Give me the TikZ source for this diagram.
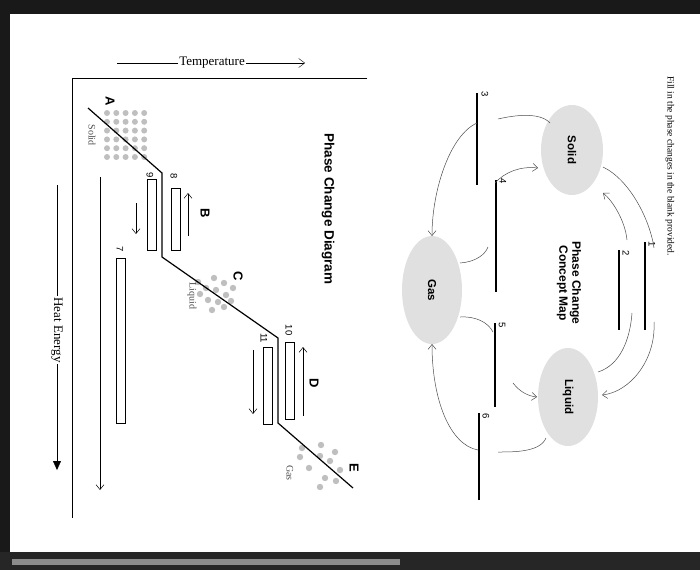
\documentclass[tikz,border=0pt]{standalone}
\usepackage{fontspec}
\setmainfont{Liberation Serif}
\newfontfamily\sansf{Liberation Sans}
\usetikzlibrary{arrows.meta,shapes.geometric}
\begin{document}
\begin{tikzpicture}[x=1pt,y=-1pt,
  lbl/.style={font=\sansf\bfseries\fontsize{13}{13}\selectfont,rotate=-90,inner sep=0},
  num/.style={font=\sansf\fontsize{9.5}{9.5}\selectfont,rotate=-90,inner sep=0},
  ser/.style={font=\fontsize{10}{10}\selectfont,rotate=-90,inner sep=0,text=black!70},
  box/.style={draw,line width=0.5pt},
  dot/.style={fill=black!25},
  blank/.style={line width=2pt},
  conn/.style={black!70,line width=0.5pt},
  oarr/.style={conn,-{Straight Barb[length=5pt,width=8pt]}},
  phase/.style={ellipse,fill=black!12,font=\sansf\bfseries\fontsize{11.5}{11.5}\selectfont,rotate=-90,inner sep=0}]
\useasboundingbox (0,0) rectangle (700,570);
\fill[black!90] (0,0) rectangle (700,14);
\fill[black!90] (0,0) rectangle (10,570);
\fill[black!85] (0,552) rectangle (700,570);
\fill[black!45] (12,559) rectangle (400,565);
% axes
\coordinate (o) at (72,78); \coordinate (ox) at (367,78); \coordinate (oy) at (72,518);
\draw[line width=0.6pt] (ox) -- (o) -- (oy);
\coordinate (t1) at (117,63); \coordinate (t2) at (305,63);
\draw[-{Straight Barb[length=6pt,width=9pt]}] (t1) -- (t2);
\node[font=\fontsize{13}{13}\selectfont,fill=white,inner sep=1pt] (temp) at (212,63) {Temperature};
\coordinate (h1) at (57,185); \coordinate (h2) at (57,470);
\draw[-{Triangle[length=9pt,width=8pt]}] (h1) -- (h2);
\node[font=\fontsize{13}{13}\selectfont,rotate=-90,fill=white,inner sep=1pt] (heat) at (57,330) {Heat Energy};
\node[lbl,font=\sansf\bfseries\fontsize{13.5}{13.5}\selectfont] (title) at (328,209) {Phase Change Diagram};
% dots
\foreach \i in {0,...,4}{\foreach \j in {0,...,5}{\fill[dot] (107+\i*9.3,113+\j*8.8) circle (3);}}
\foreach \p in {(198,282),(200,294),(206,288),(208,300),(214,278),(216,290),(218,302),(224,283),(226,295),(233,288),(231,301),(224,307),(212,310)}{\fill[dot] \p circle (3.2);}
\foreach \p in {(302,448),(300,457),(309,468),(321,445),(320,456),(335,452),(340,470),(336,481),(325,478),(320,487),(330,461)}{\fill[dot] \p circle (3.2);}
% curve
\coordinate (cA) at (88,108); \coordinate (k1) at (162,173); \coordinate (k2) at (162,257);
\coordinate (k3) at (278,338); \coordinate (k4) at (278,423); \coordinate (cE) at (353,488);
\draw[line width=1.2pt] (cA) -- (k1) -- (k2) -- (k3) -- (k4) -- (cE);
\node[lbl] (A) at (110,101) {A};
\node[lbl] (B) at (205,213) {B};
\node[lbl] (C) at (238,276) {C};
\node[lbl] (D) at (314,383) {D};
\node[lbl] (E) at (354,468) {E};
\node[ser] (ls) at (92,135) {Solid};
\node[ser] (ll) at (192,296) {Liquid};
\node[ser] (lg) at (290,473) {Gas};
% boxes
\draw[box] (147,179) rectangle (156,250);
\draw[box] (171,188) rectangle (180,250);
\draw[box] (116,258) rectangle (125,423);
\draw[box] (263,347) rectangle (272,424);
\draw[box] (285,342) rectangle (294,419);
\node[num] (n9) at (150,175) {9};
\node[num] (n8) at (174,176) {8};
\node[num] (n7) at (120,249) {7};
\node[num] (n11) at (264,338) {11};
\node[num] (n10) at (289,330) {10};
\tikzset{barb/.style={-{Straight Barb[length=5pt,width=8pt]},line width=0.5pt}}
\coordinate (a1) at (188,236); \coordinate (a2) at (188,193);
\coordinate (a3) at (136,203); \coordinate (a4) at (136,234);
\coordinate (a5) at (303,416); \coordinate (a6) at (303,347);
\coordinate (a7) at (253,350); \coordinate (a8) at (253,414);
\coordinate (a9) at (100,177); \coordinate (a10) at (100,490);
\draw[barb] (a1) -- (a2); \draw[barb] (a3) -- (a4);
\draw[barb] (a5) -- (a6); \draw[barb] (a7) -- (a8);
\draw[barb] (a9) -- (a10);
% concept map
\node[font=\fontsize{9.5}{9.5}\selectfont,rotate=-90,inner sep=0] (fill) at (670,166) {Fill in the phase changes in the blank provided.};
\node[phase,minimum width=90pt,minimum height=62pt] (solid) at (572,150) {Solid};
\node[phase,minimum width=108pt,minimum height=60pt] (gas) at (432,290) {Gas};
\node[phase,minimum width=98pt,minimum height=60pt] (liquid) at (568,397) {Liquid};
\node[font=\sansf\bfseries\fontsize{12}{13}\selectfont,rotate=-90,align=center,inner sep=0] (cm) at (569,283) {Phase Change\\Concept Map};
% blanks
\foreach \n/\x/\ya/\yb/\lx/\ly in {1/645/242/330/652/244, 2/619/250/330/626/253, 3/477/93/185/485/94, 4/496/180/292/503/181, 5/495/323/407/502/325, 6/479/413/500/486/416}{
  \coordinate (b\n s) at (\x,\ya); \coordinate (b\n e) at (\x,\yb);
  \draw[blank] (b\n s) -- (b\n e);
  \node[num] (bn\n) at (\lx,\ly) {\n};}
% connectors
\coordinate (p1) at (603,167); \coordinate (q1) at (654,248);
\coordinate (p1b) at (654,322); \coordinate (r1) at (602,395);
\draw[conn] (p1) .. controls (630,180) and (650,220) .. (q1);
\draw[oarr] (p1b) .. controls (656,360) and (630,392) .. (r1);
\coordinate (p2) at (598,372); \coordinate (q2) at (632,313);
\coordinate (p2b) at (627,240); \coordinate (r2) at (603,193);
\draw[conn] (p2) .. controls (620,365) and (630,340) .. (q2);
\draw[oarr] (p2b) .. controls (625,220) and (612,200) .. (r2);
\coordinate (p3) at (550,123); \coordinate (q3) at (498,119);
\coordinate (p3b) at (477,123); \coordinate (r3) at (432,236);
\draw[conn] (p3) .. controls (540,112) and (515,115) .. (q3);
\draw[oarr] (p3b) .. controls (450,135) and (432,190) .. (r3);
\coordinate (p4) at (460,263); \coordinate (q4) at (488,247);
\coordinate (p4b) at (495,183); \coordinate (r4) at (538,168);
\draw[conn] (p4) .. controls (475,262) and (485,255) .. (q4);
\draw[oarr] (p4b) .. controls (505,172) and (520,166) .. (r4);
\coordinate (p5) at (460,317); \coordinate (q5) at (493,332);
\coordinate (p5b) at (513,383); \coordinate (r5) at (537,397);
\draw[conn] (p5) .. controls (475,316) and (488,322) .. (q5);
\draw[oarr] (p5b) .. controls (520,392) and (528,396) .. (r5);
\coordinate (p6) at (546,438); \coordinate (q6) at (498,452);
\coordinate (p6b) at (478,450); \coordinate (r6) at (432,344);
\draw[conn] (p6) .. controls (540,452) and (515,452) .. (q6);
\draw[oarr] (p6b) .. controls (450,445) and (432,400) .. (r6);
\end{tikzpicture}
\end{document}
